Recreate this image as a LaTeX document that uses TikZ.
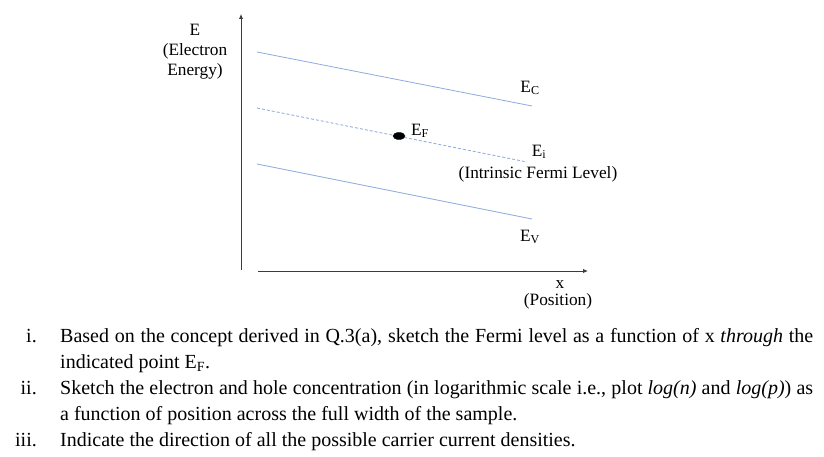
\documentclass[tikz,border=0pt]{standalone}
\usepackage{fontspec}
\setmainfont{Liberation Serif}
\usetikzlibrary{arrows.meta,shapes.geometric}
\definecolor{bandblue}{RGB}{143,170,220}
\definecolor{axisgray}{RGB}{60,60,60}
\tikzset{
  axisline/.style={draw=axisgray,line width=0.9pt,-{Latex[length=5pt,width=4.5pt]}},
  bandline/.style={draw=bandblue,line width=0.8pt},
  lbl/.style={inner sep=0pt,font=\fontsize{17.3}{20}\selectfont},
  body/.style={inner sep=0pt,anchor=base west,font=\fontsize{20}{26}\selectfont},
  numlbl/.style={inner sep=0pt,anchor=base east,font=\fontsize{20}{26}\selectfont}
}
\begin{document}
\begin{tikzpicture}[x=1pt,y=-1pt]
\useasboundingbox (0,0) rectangle (824,457);
% axes
\coordinate (yo) at (241,270);
\coordinate (yt) at (241,14);
\coordinate (xo) at (258,271);
\coordinate (xt) at (588,271);
\draw[axisline] (yo) -- (yt);
\draw[axisline] (xo) -- (xt);
% bands
\coordinate (ec1) at (257,52);
\coordinate (ec2) at (532,106);
\coordinate (ei1) at (257,108);
\coordinate (ei2) at (527,162);
\coordinate (ev1) at (257,164);
\coordinate (ev2) at (532,219);
\draw[bandline] (ec1) -- (ec2);
\draw[bandline,dash pattern=on 3pt off 2pt] (ei1) -- (ei2);
\draw[bandline] (ev1) -- (ev2);
% EF dot
\node[draw=black,fill=black,ellipse,minimum width=12pt,minimum height=7pt,inner sep=0pt] (ef) at (399,136) {};
% labels
\node[lbl,align=center] (elbl) at (195,52) {E\\(Electron\\Energy)};
\node[lbl] (eclbl) at (530,88) {E\textsubscript{C}};
\node[lbl] (eflbl) at (420,131) {E\textsubscript{F}};
\node[lbl] (eilbl) at (539,152) {E\textsubscript{i}};
\node[lbl] (intr) at (538,174) {(Intrinsic Fermi Level)};
\node[lbl] (evlbl) at (530,237) {E\textsubscript{V}};
\node[lbl] (xlbl) at (560,285) {x};
\node[lbl] (poslbl) at (558,301) {(Position)};
% questions
\node[numlbl] (n1) at (37,342) {i.};
\node[body] (q1a) at (60,342) {\makebox[753pt][s]{Based on the concept derived in Q.3(a), sketch the Fermi level as a function of x \textit{through} the}};
\node[body] (q1b) at (60,368) {indicated point E\textsubscript{F}.};
\node[numlbl] (n2) at (37,394) {ii.};
\node[body] (q2a) at (60,394) {\makebox[753pt][s]{Sketch the electron and hole concentration (in logarithmic scale i.e., plot \textit{log(n)} and \textit{log(p)}) as}};
\node[body] (q2b) at (60,420) {a function of position across the full width of the sample.};
\node[numlbl] (n3) at (37,446) {iii.};
\node[body] (q3) at (60,446) {Indicate the direction of all the possible carrier current densities.};
\end{tikzpicture}
\end{document}
